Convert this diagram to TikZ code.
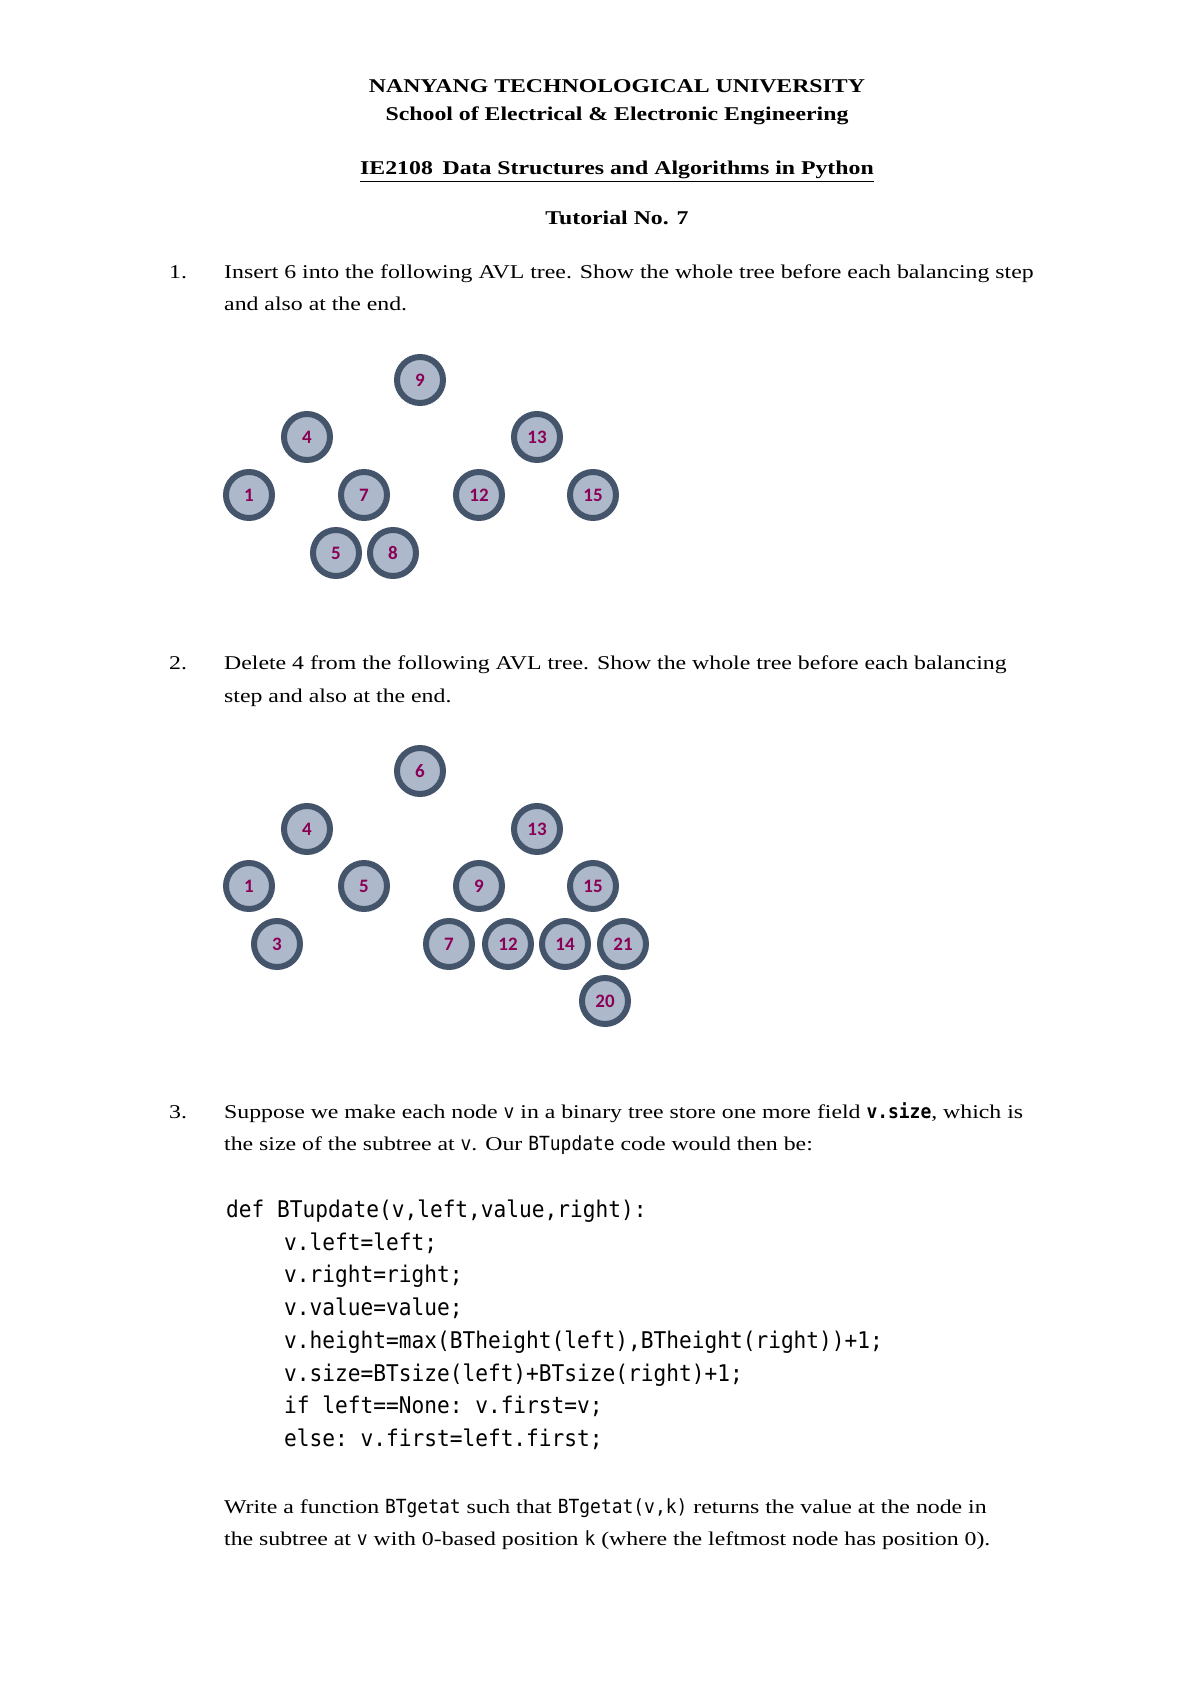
\documentclass[tikz,border=0pt]{standalone}
\usepackage{fontspec}
\usetikzlibrary{backgrounds}
\setmainfont{Liberation Serif}[FakeStretch=1.22]
\setsansfont{Carlito}
\setmonofont{DejaVu Sans Mono}[FakeStretch=0.92]
\begin{document}
\begin{tikzpicture}[x=1pt,y=-1pt,
  tn/.style={circle,draw=bordc,line width=6pt,fill=fillc,minimum size=46pt,inner sep=0pt,font=\sffamily\bfseries\fontsize{19}{19}\selectfont,text=numc},
  ed/.style={draw=edgec,line width=6pt},
  tx/.style={anchor=base west,inner sep=0pt,font=\fontsize{19.5}{20}\selectfont},
  cd/.style={anchor=base west,inner sep=0pt,font=\ttfamily\fontsize{23}{24}\selectfont},
  hd/.style={anchor=base,inner sep=0pt,font=\bfseries\fontsize{19.5}{20}\selectfont}]
\definecolor{bordc}{HTML}{44546A}
\definecolor{fillc}{HTML}{ADB9CA}
\definecolor{numc}{HTML}{8B0057}
\definecolor{edgec}{HTML}{00B0F0}
\useasboundingbox (0,0) rectangle (1200,1696);
\node[hd] (t1) at (617,93) {NANYANG TECHNOLOGICAL UNIVERSITY};
\node[hd] (t2) at (617,121) {School of Electrical \& Electronic Engineering};
\node[hd] (t3) at (617,175) {\underline{IE2108\enspace Data Structures and Algorithms in Python}};
\node[hd] (t4) at (617,225) {Tutorial No. 7};
\node[tx] (n1) at (169,278) {1.};
\node[tx] (q1a) at (224,278) {Insert 6 into the following AVL tree. Show the whole tree before each balancing step};
\node[tx] (q1b) at (224,310) {and also at the end.};
\node[tx] (n2) at (169,669) {2.};
\node[tx] (q2a) at (224,669) {Delete 4 from the following AVL tree. Show the whole tree before each balancing};
\node[tx] (q2b) at (224,702) {step and also at the end.};
\node[tx] (n3) at (169,1118) {3.};
\node[tx] (q3a) at (224,1118) {Suppose we make each node \texttt{v} in a binary tree store one more field \texttt{\bfseries v.size}, which is};
\node[tx] (q3b) at (224,1150) {the size of the subtree at \texttt{v}. Our \texttt{BTupdate} code would then be:};
\node[cd] (c1) at (226,1217) {def BTupdate(v,left,value,right):};
\node[cd] (c2) at (284,1250) {v.left=left;};
\node[cd] (c3) at (284,1282) {v.right=right;};
\node[cd] (c4) at (284,1315) {v.value=value;};
\node[cd] (c5) at (284,1348) {v.height=max(BTheight(left),BTheight(right))+1;};
\node[cd] (c6) at (284,1381) {v.size=BTsize(left)+BTsize(right)+1;};
\node[cd] (c7) at (284,1413) {if left==None: v.first=v;};
\node[cd] (c8) at (284,1446) {else: v.first=left.first;};
\node[tx] (w1) at (224,1513) {Write a function \texttt{BTgetat} such that \texttt{BTgetat(v,k)} returns the value at the node in};
\node[tx] (w2) at (224,1545) {the subtree at \texttt{v} with 0-based position \texttt{k} (where the leftmost node has position 0).};
% tree 1
\node[tn] (a9) at (420,380) {9};
\node[tn] (a4) at (307,437) {4};
\node[tn] (a13) at (537,437) {13};
\node[tn] (a1) at (249,495) {1};
\node[tn] (a7) at (364,495) {7};
\node[tn] (a12) at (479,495) {12};
\node[tn] (a15) at (593,495) {15};
\node[tn] (a5) at (336,553) {5};
\node[tn] (a8) at (393,553) {8};
% tree 2
\node[tn] (b6) at (420,771) {6};
\node[tn] (b4) at (307,829) {4};
\node[tn] (b13) at (537,829) {13};
\node[tn] (b1) at (249,886) {1};
\node[tn] (b5) at (364,886) {5};
\node[tn] (b9) at (479,886) {9};
\node[tn] (b15) at (593,886) {15};
\node[tn] (b3) at (277,944) {3};
\node[tn] (b7) at (449,944) {7};
\node[tn] (b12) at (508,944) {12};
\node[tn] (b14) at (565,944) {14};
\node[tn] (b21) at (623,944) {21};
\node[tn] (b20) at (605,1001) {20};
\begin{scope}[on background layer]
\foreach \p/\c in {a9/a4,a9/a13,a4/a1,a4/a7,a13/a12,a13/a15,a7/a5,a7/a8,b6/b4,b6/b13,b4/b1,b4/b5,b1/b3,b13/b9,b13/b15,b9/b7,b9/b12,b15/b14,b15/b21,b21/b20}
  \draw[ed] (\p.center) -- (\c.center);
\fill[white] (0,0) rectangle (1200,1696);
\end{scope}
\end{tikzpicture}
\end{document}
